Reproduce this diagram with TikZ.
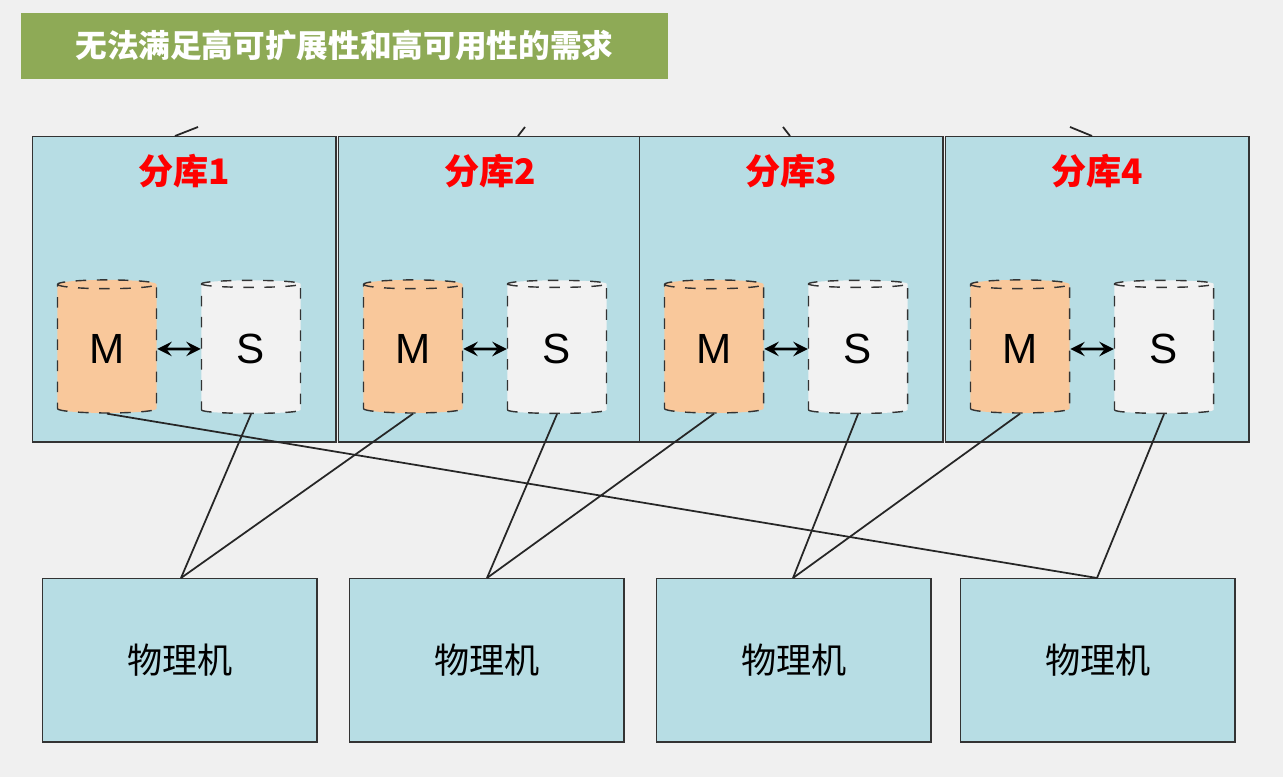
\documentclass[tikz,border=0pt]{standalone}
\usepackage{fontspec}
\setsansfont{Liberation Sans}
\newfontfamily\cjk{Noto Sans CJK SC}
\usetikzlibrary{shapes.geometric}
\definecolor{bgcol}{HTML}{F0F0F0}
\definecolor{titlegreen}{HTML}{8EAA56}
\definecolor{boxblue}{HTML}{B7DDE4}
\definecolor{mcol}{HTML}{F9C89B}
\definecolor{scol}{HTML}{F2F2F2}
\tikzset{
  shard/.style={draw=black!80, fill=boxblue, minimum width=3.03cm, minimum height=3.05cm, anchor=north west, inner sep=0pt},
  machine/.style={draw=black!80, fill=boxblue, minimum width=2.74cm, minimum height=1.63cm, anchor=north west, font=\cjk\fontsize{10}{10}\selectfont},
  db/.style={cylinder, shape border rotate=90, aspect=0.25, draw=black!80, dashed, minimum width=0.99cm, minimum height=1.33cm, font=\sffamily\fontsize{12}{12}\selectfont, inner sep=0pt},
  link/.style={draw=black!85, line width=0.5pt}
}
\begin{document}
\begin{tikzpicture}[x=0.01cm,y=-0.01cm]
\fill[bgcol] (0,0) rectangle (1283,777);
\useasboundingbox (0,0) rectangle (1283,777);
\node[fill=titlegreen, minimum width=6.47cm, minimum height=0.66cm, anchor=north west, text=white, font=\cjk\bfseries\fontsize{9}{9}\selectfont] (title) at (20,12) {无法满足高可扩展性和高可用性的需求};
% shards
\foreach \i/\x in {1/32,2/338,3/639,4/945}{
  \node[shard] (shard\i) at (\x,136) {};
  \node[text=red, font=\cjk\bfseries\fontsize{10}{10}\selectfont] (label\i) at ([xshift=0cm,yshift=-0.35cm]shard\i.north) {分库\i};
  \node[db, fill=mcol] (m\i) at (\x+75,349) {M};
  \node[db, fill=scol] (s\i) at (\x+219,349) {S};
  \draw[<->, >=stealth, thick] (m\i.east) -- (s\i.west);
}
% cut-off lines above
\draw[link] (175,136) -- (198,127);
\draw[link] (518,136) -- (525,127);
\draw[link] (790,136) -- (783,127);
\draw[link] (1092,136) -- (1070,127);
% machines
\foreach \i/\x in {1/42,2/349,3/656,4/960}{
  \node[machine] (pm\i) at (\x,578) {物理机};
}
\coordinate (t1) at (181,578);
\coordinate (t2) at (487,578);
\coordinate (t3) at (793,578);
\coordinate (t4) at (1097,578);
\draw[link] (m1.bottom) -- (t4);
\draw[link] (s1.bottom) -- (t1);
\draw[link] (m2.bottom) -- (t1);
\draw[link] (s2.bottom) -- (t2);
\draw[link] (m3.bottom) -- (t2);
\draw[link] (s3.bottom) -- (t3);
\draw[link] (m4.bottom) -- (t3);
\draw[link] (s4.bottom) -- (t4);
\end{tikzpicture}
\end{document}
